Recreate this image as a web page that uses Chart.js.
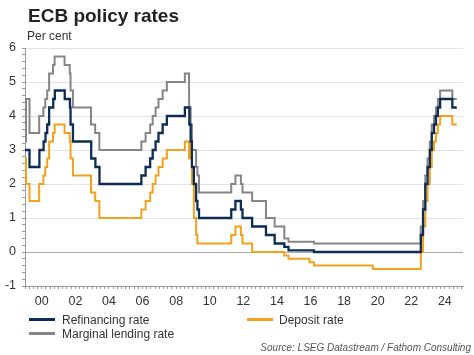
<!DOCTYPE html>
<html>
<head>
<meta charset="utf-8">
<script src="https://cdn.jsdelivr.net/npm/chart.js@4/dist/chart.umd.min.js"></script>
<style>
  html, body { margin: 0; padding: 0; background: #fff; }
  #wrap { position: relative; width: 474px; height: 355px; overflow: hidden; font-family: "Liberation Sans", Arial, sans-serif; color: #333; }
  #c { position: absolute; left: 0; top: 0; }
  .t { position: absolute; white-space: nowrap; line-height: 1; }
  .sw { position: absolute; height: 2.5px; }
</style>
</head>
<body>
<div id="wrap">
  <canvas id="c" width="474" height="355"></canvas>
  <div class="t" style="left:28px; top:6px; font-size:19px; font-weight:bold; color:#222;">ECB policy rates</div>
  <div class="t" style="left:27px; top:29.5px; font-size:12px; color:#333;">Per cent</div>

  <div class="sw" style="left:29px; top:318px; width:26px; background:#0d2d57;"></div>
  <div class="t" style="left:62px; top:314.3px; font-size:12px; color:#333;">Refinancing rate</div>
  <div class="sw" style="left:29px; top:332px; width:26px; background:#858585;"></div>
  <div class="t" style="left:62px; top:327.8px; font-size:12px; color:#333;">Marginal lending rate</div>
  <div class="sw" style="left:247px; top:318px; width:26px; background:#f2a11f;"></div>
  <div class="t" style="left:279px; top:314.3px; font-size:12px; color:#333;">Deposit rate</div>

  <div class="t" style="right:3px; top:342.5px; font-size:10px; font-style:italic; color:#555;">Source: LSEG Datastream / Fathom Consulting</div>
</div>
<script>
// ---- Data (change dates and rate levels, per cent) ----
const refinancingDates = ['1999-01-01','1999-04-09','1999-11-10','2000-02-09','2000-03-22','2000-04-28','2000-06-09','2000-09-06','2000-10-11','2001-05-15',
                          '2001-09-05','2001-09-18','2001-11-09','2002-12-11','2003-03-12','2003-06-09','2005-12-06','2006-03-08','2006-06-15','2006-08-09',
                          '2006-10-11','2006-12-13','2007-03-14','2007-06-13','2008-07-09','2008-10-15','2008-11-12','2008-12-10','2009-01-21','2009-03-11',
                          '2009-04-08','2009-05-13','2011-04-13','2011-07-13','2011-11-09','2011-12-14','2012-07-11','2013-05-08','2013-11-13','2014-06-11',
                          '2014-09-10','2016-03-16','2022-07-27','2022-09-14','2022-11-02','2022-12-21','2023-02-08','2023-03-22','2023-05-10','2023-06-21',
                          '2023-08-02','2023-09-20','2024-06-12','2024-09-17'];
const refinancingRate  = [3.00, 2.50, 3.00, 3.25, 3.50, 3.75, 4.25, 4.50, 4.75, 4.50,
                          4.25, 3.75, 3.25, 2.75, 2.50, 2.00, 2.25, 2.50, 2.75, 3.00,
                          3.25, 3.50, 3.75, 4.00, 4.25, 3.75, 3.25, 2.50, 2.00, 1.50,
                          1.25, 1.00, 1.25, 1.50, 1.25, 1.00, 0.75, 0.50, 0.25, 0.15,
                          0.05, 0.00, 0.50, 1.25, 2.00, 2.50, 3.00, 3.50, 3.75, 4.00,
                          4.25, 4.50, 4.25, 4.25];

const depositDates = ['1999-01-01','1999-01-04','1999-01-22','1999-04-09','1999-11-05','2000-02-04','2000-03-17','2000-04-28','2000-06-09','2000-09-01',
                      '2000-10-06','2001-05-11','2001-08-31','2001-09-18','2001-11-09','2002-12-06','2003-03-07','2003-06-06','2005-12-06','2006-03-08',
                      '2006-06-15','2006-08-09','2006-10-11','2006-12-13','2007-03-14','2007-06-13','2008-07-09','2008-10-08','2008-10-09','2008-11-12',
                      '2008-12-10','2009-01-21','2009-03-11','2009-04-08','2011-04-13','2011-07-13','2011-11-09','2011-12-14','2012-07-11','2014-06-11',
                      '2014-09-10','2015-12-09','2016-03-16','2019-09-18','2022-07-27','2022-09-14','2022-11-02','2022-12-21','2023-02-08','2023-03-22',
                      '2023-05-10','2023-06-21','2023-08-02','2023-09-20','2024-06-12','2024-09-17'];
const depositRate  = [2.00, 2.75, 2.00, 1.50, 2.00, 2.25, 2.50, 2.75, 3.25, 3.50,
                      3.75, 3.50, 3.25, 2.75, 2.25, 1.75, 1.50, 1.00, 1.25, 1.50,
                      1.75, 2.00, 2.25, 2.50, 2.75, 3.00, 3.25, 2.75, 3.25, 2.75,
                      2.00, 1.00, 0.50, 0.25, 0.50, 0.75, 0.50, 0.25, 0.00, -0.10,
                      -0.20, -0.30, -0.40, -0.50, 0.00, 0.75, 1.50, 2.00, 2.50, 3.00,
                      3.25, 3.50, 3.75, 4.00, 3.75, 3.75];

const marginalDates = ['1999-01-01','1999-01-04','1999-01-22','1999-04-09','1999-11-05','2000-02-04','2000-03-17','2000-04-28','2000-06-09','2000-09-01',
                       '2000-10-06','2001-05-11','2001-08-31','2001-09-18','2001-11-09','2002-12-06','2003-03-07','2003-06-06','2005-12-06','2006-03-08',
                       '2006-06-15','2006-08-09','2006-10-11','2006-12-13','2007-03-14','2007-06-13','2008-07-09','2008-10-08','2008-10-09','2008-11-12',
                       '2008-12-10','2009-03-11','2009-04-08','2009-05-13','2011-04-13','2011-07-13','2011-11-09','2011-12-14','2012-07-11','2013-05-08',
                       '2013-11-13','2014-06-11','2014-09-10','2016-03-16','2022-07-27','2022-09-14','2022-11-02','2022-12-21','2023-02-08','2023-03-22',
                       '2023-05-10','2023-06-21','2023-08-02','2023-09-20','2024-06-12','2024-09-17'];
const marginalRate  = [4.50, 3.25, 4.50, 3.50, 4.00, 4.25, 4.50, 4.75, 5.25, 5.50,
                       5.75, 5.50, 5.25, 4.75, 4.25, 3.75, 3.50, 3.00, 3.25, 3.50,
                       3.75, 4.00, 4.25, 4.50, 4.75, 5.00, 5.25, 4.75, 4.25, 3.75,
                       3.00, 2.50, 2.25, 1.75, 2.00, 2.25, 2.00, 1.75, 1.50, 1.00,
                       0.75, 0.40, 0.30, 0.25, 0.75, 1.50, 2.25, 2.75, 3.25, 3.75,
                       4.00, 4.25, 4.50, 4.75, 4.50, 4.50];

const xLabelYears = [2000, 2002, 2004, 2006, 2008, 2010, 2012, 2014, 2016, 2018, 2020, 2022, 2024];
const yLabels = [-1, 0, 1, 2, 3, 4, 5, 6];

// ---- helpers ----
function toYear(s) {
  const [y, m, d] = s.split('-').map(Number);
  const start = Date.UTC(y, 0, 1), end = Date.UTC(y + 1, 0, 1);
  return y + (Date.UTC(y, m - 1, d) - start) / (end - start);
}
function pts(dates, vals) { return dates.map((d, i) => ({ x: toYear(d), y: vals[i] })); }

const NAVY = '#0d2d57', ORANGE = '#f2a11f', GREY = '#858585';

new Chart(document.getElementById('c'), {
  type: 'line',
  data: {
    datasets: [
      { label: 'Refinancing rate', data: pts(refinancingDates, refinancingRate), borderColor: NAVY, borderWidth: 2.3, stepped: 'before', pointRadius: 0, fill: false },
      { label: 'Deposit rate', data: pts(depositDates, depositRate), borderColor: ORANGE, borderWidth: 2, stepped: 'before', pointRadius: 0, fill: false },
      { label: 'Marginal lending rate', data: pts(marginalDates, marginalRate), borderColor: GREY, borderWidth: 2, stepped: 'before', pointRadius: 0, fill: false }
    ]
  },
  options: {
    responsive: false,
    animation: false,
    devicePixelRatio: 1,
    layout: { padding: { left: 0, right: 11, top: 48, bottom: 0 } },
    plugins: { legend: { display: false }, tooltip: { enabled: false } },
    scales: {
      x: {
        type: 'linear',
        min: 1999,
        max: 2025.08,
        afterFit: s => { s.height = 69; },
        border: { display: true, color: '#9a9a9a', width: 1 },
        grid: { drawOnChartArea: false, drawTicks: true, tickLength: 3, color: '#9a9a9a', tickColor: '#9a9a9a' },
        ticks: {
          stepSize: 0.25,
          includeBounds: false,
          autoSkip: false,
          maxRotation: 0,
          minRotation: 0,
          padding: 5,
          color: '#333',
          font: { family: '"Liberation Sans", Arial, sans-serif', size: 12.5 },
          callback: v => xLabelYears.includes(v) ? String(v).slice(2) : ''
        }
      },
      y: {
        min: -1,
        max: 6,
        afterFit: s => { s.width = 25; },
        border: { display: true, color: '#9a9a9a', width: 1 },
        grid: {
          drawTicks: true,
          tickLength: 3,
          tickColor: '#9a9a9a',
          color: c => c.tick.value === 0 ? '#a8a8a8' : (Number.isInteger(c.tick.value) ? '#e2e2e2' : 'rgba(0,0,0,0)')
        },
        ticks: {
          stepSize: 0.2,
          autoSkip: false,
          padding: 6,
          color: '#333',
          font: { family: '"Liberation Sans", Arial, sans-serif', size: 12.5 },
          callback: v => yLabels.includes(v) ? String(v) : ''
        }
      }
    }
  }
});
</script>
</body>
</html>
